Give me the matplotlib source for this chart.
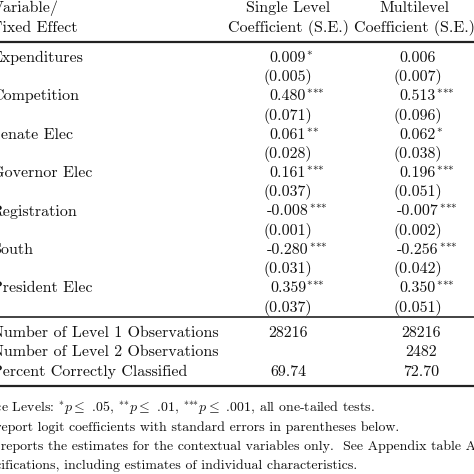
import matplotlib
matplotlib.use("Agg")
import matplotlib.pyplot as plt

plt.rcParams['font.family'] = 'cmr10'
plt.rcParams['mathtext.fontset'] = 'cm'

# Tabellendaten
variables = ["Expenditures", "Competition", "Senate Elec", "Governor Elec",
             "Registration", "South", "President Elec"]
single_coef = ["0.009", "0.480", "0.061", "0.161", "-0.008", "-0.280", "0.359"]
single_star = ["*", "***", "**", "***", "***", "***", "***"]
single_se = ["(0.005)", "(0.071)", "(0.028)", "(0.037)", "(0.001)", "(0.031)", "(0.037)"]
multi_coef = ["0.006", "0.513", "0.062", "0.196", "-0.007", "-0.256", "0.350"]
multi_star = ["", "***", "*", "***", "***", "***", "***"]
multi_se = ["(0.007)", "(0.096)", "(0.038)", "(0.051)", "(0.002)", "(0.042)", "(0.051)"]

stat_labels = ["Number of Level 1 Observations", "Number of Level 2 Observations",
               "Percent Correctly Classified"]
stat_single = ["28216", "", "69.74"]
stat_multi = ["28216", "2482", "72.70"]

def sup(stars):
    return "$^{" + "".join("{*}" for _ in stars) + "}$"

notes = [("Significanc", "e Levels: " + sup("*") + r"$p \leq$ .05, " + sup("**") + r"$p \leq$ .01, "
          + sup("***") + r"$p \leq$ .001, all one-tailed tests."),
         ("We r", "eport logit coefficients with standard errors in parentheses below."),
         ("Model 2 ", "reports the estimates for the contextual variables only.  See Appendix table A-2"),
         ("for full spec", "ifications, including estimates of individual characteristics.")]

FS = 11.5
fig = plt.figure(figsize=(4.74, 4.74), dpi=100)
ax = fig.add_axes([0, 0, 1, 1])
ax.set_xlim(0, 474)
ax.set_ylim(474, 0)
ax.axis('off')
r = fig.canvas.get_renderer()

def width(s, fs=FS):
    t = ax.text(0, 0, s, fontsize=fs)
    bb = t.get_window_extent(renderer=r)
    t.remove()
    return bb.width

def txt(x, y, s, ha='left', fs=FS):
    ax.text(x, y, s, fontsize=fs, ha=ha, va='center', color='#111')

def cell(x, y, num, star):
    txt(x, y, num, ha='center')
    if star:
        txt(x + width(num) / 2, y - 2, sup(star))

X1, X2 = 288, 418
LX = -8
# Kopf
txt(LX, 8, "Variable/")
txt(LX, 28, "Fixed Effect")
txt(X1, 8, "Single Level", ha='center')
txt(X1, 28, "Coefficient (S.E.)", ha='center')
txt(X2 - 4, 8, "Multilevel", ha='center')
txt(X2 - 4, 28, "Coefficient (S.E.)", ha='center')
ax.plot([0, 474], [42, 42], color='#222', lw=1.6)

y0, step = 58, 19.2
for i, v in enumerate(variables):
    y = y0 + 2 * i * step
    txt(LX, y, v)
    cell(X1, y, single_coef[i], single_star[i])
    cell(X2, y, multi_coef[i], multi_star[i])
    txt(X1, y + step, single_se[i], ha='center')
    txt(X2, y + step, multi_se[i], ha='center')

ax.plot([0, 474], [317, 317], color='#222', lw=1.2)
for i, s in enumerate(stat_labels):
    y = 333 + i * 19.5
    txt(LX, y, s)
    txt(X1, y, stat_single[i], ha='center')
    txt(X2 + 3, y, stat_multi[i], ha='center')
ax.plot([0, 474], [386, 386], color='#222', lw=1.6)

for i, (pre, vis) in enumerate(notes):
    y = 408 + i * 19.3
    txt(-width(pre, 10) + 1, y, pre + vis, fs=10)

fig.savefig("out.png", dpi=100, facecolor='white')
